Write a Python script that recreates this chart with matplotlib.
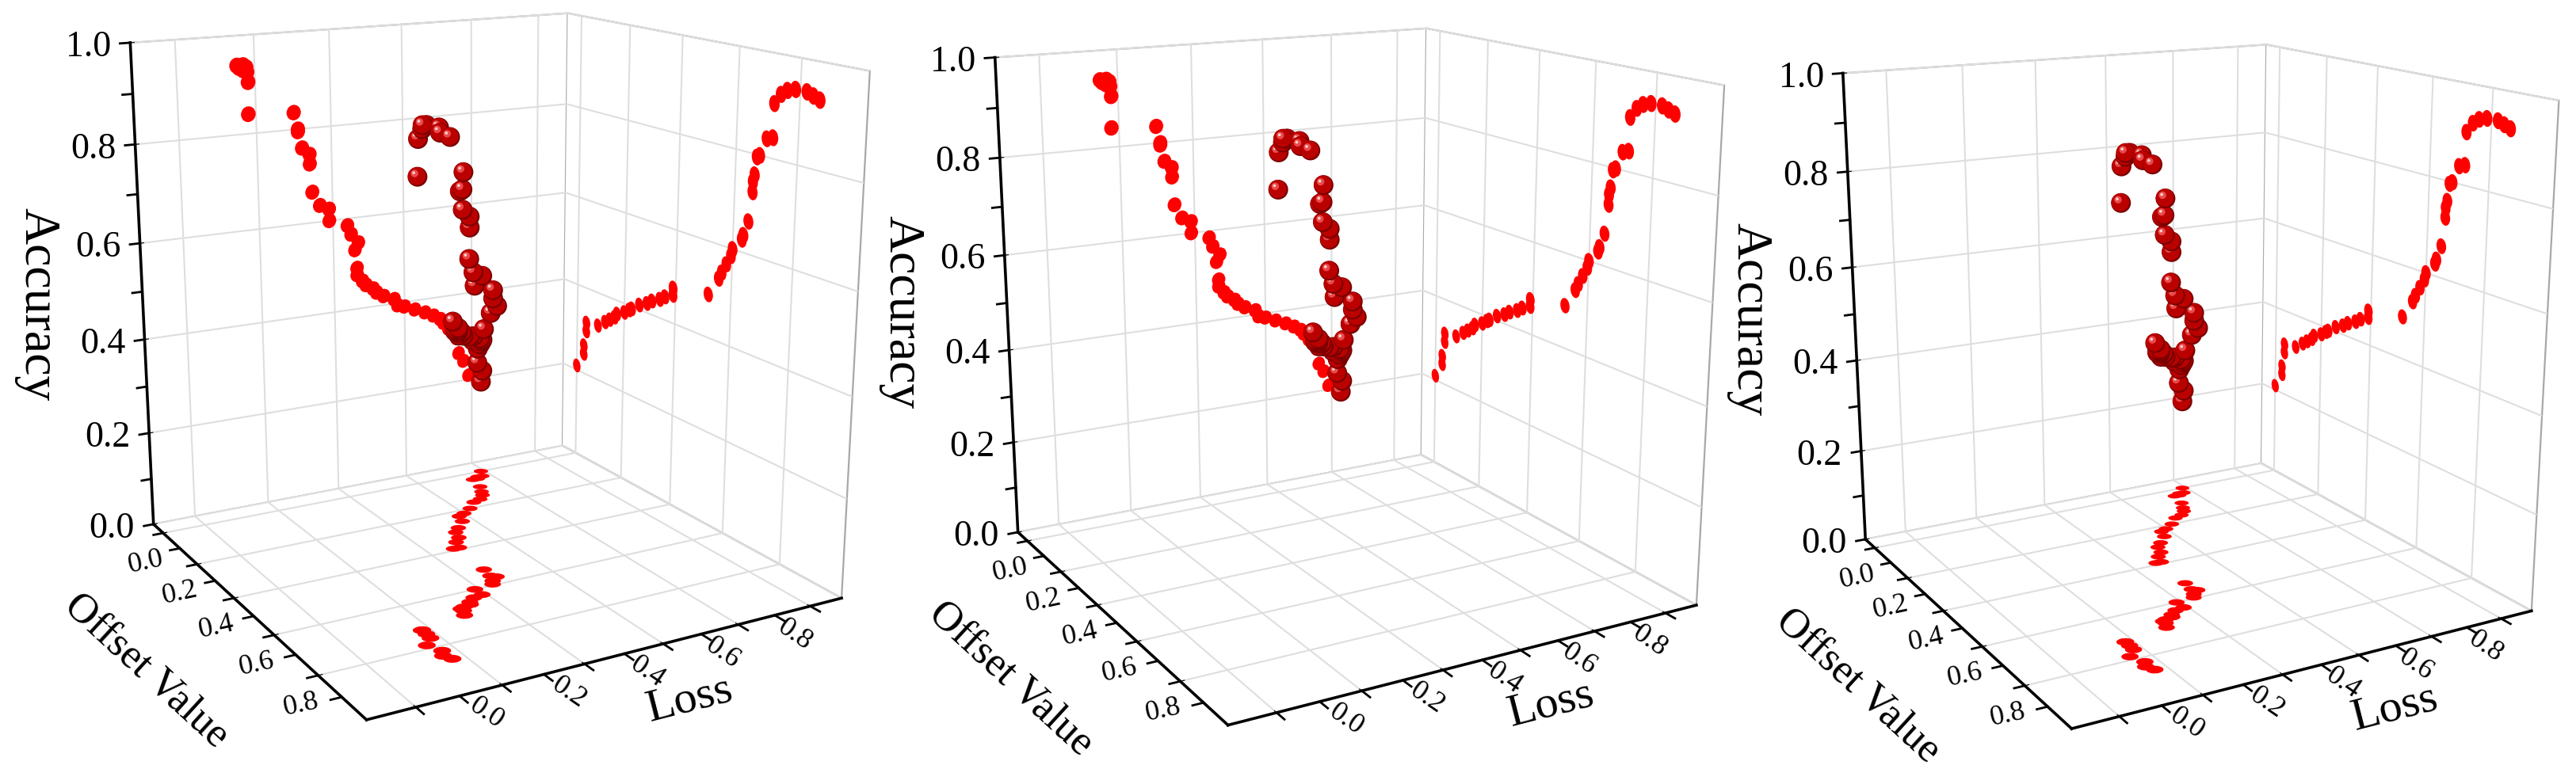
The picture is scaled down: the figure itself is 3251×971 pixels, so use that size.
import numpy as np
import matplotlib
matplotlib.use("Agg")
import matplotlib.pyplot as plt
from matplotlib.patches import Ellipse
from matplotlib.path import Path
from matplotlib.ticker import NullFormatter
import mpl_toolkits.mplot3d.art3d as art3d

W, H = 3251, 971
SERIF = ["Liberation Serif", "DejaVu Serif"]

# one run (same points in every panel)
offset = [0.00, 0.03, 0.03, 0.04, 0.04, 0.09, 0.12, 0.14, 0.16, 0.17,
          0.20, 0.22, 0.23, 0.26, 0.29, 0.31, 0.34, 0.36, 0.39, 0.39,
          0.52, 0.555, 0.565, 0.58, 0.595, 0.60, 0.63, 0.635, 0.65,
          0.66, 0.66, 0.665, 0.67, 0.68, 0.70, 0.72, 0.72, 0.74, 0.76,
          0.785, 0.82, 0.84, 0.86]
loss = [0.59, 0.575, 0.56, 0.555, 0.54, 0.53, 0.515, 0.505, 0.485, 0.46,
        0.43, 0.40, 0.38, 0.37, 0.34, 0.32, 0.31, 0.29, 0.28, 0.265,
        0.265, 0.26, 0.27, 0.25, 0.24, 0.19, 0.19, 0.165, 0.145,
        0.14, 0.14, 0.12, 0.11, 0.11, 0.10, -0.02, -0.018, -0.02, -0.022,
        -0.046, -0.03, -0.04, -0.03]
accuracy = [0.21, 0.245, 0.265, 0.30, 0.32, 0.325, 0.34, 0.35, 0.36, 0.37,
            0.38, 0.39, 0.395, 0.41, 0.42, 0.43, 0.44, 0.45, 0.46, 0.475,
            0.49, 0.53, 0.545, 0.565, 0.585, 0.60, 0.625, 0.635, 0.665,
            0.725, 0.745, 0.76, 0.795, 0.80, 0.835, 0.84, 0.905, 0.925, 0.935,
            0.94, 0.94, 0.935, 0.93]

offset_ticks = [0.0, 0.2, 0.4, 0.6, 0.8]
loss_ticks = [-0.2, 0.0, 0.2, 0.4, 0.6, 0.8]      # -0.2 gets a grid line, no label
acc_ticks = [0.0, 0.2, 0.4, 0.6, 0.8, 1.0]
offset_minor = np.round(np.arange(0.0, 0.95, 0.1), 2)
loss_minor = np.round(np.arange(-0.2, 0.85, 0.1), 2)
acc_minor = np.round(np.arange(0.0, 1.05, 0.1), 2)
X0, X1 = -0.06, 1.0       # Offset Value
Y0, Y1 = -0.31, 0.89      # Loss
Z0, Z1 = 0.0, 1.0         # Accuracy

# which shadows each panel shows, and where its box corners sit in the picture
# (px from top-left: L, F, R, B on the floor, then L, B, R at the top)
panels = [
    dict(shadows=("floor", "left", "right"),
         corners=[(193, 662), (465, 913), (1063, 755), (708, 563), (168, 50), (716, 19), (1094, 87)]),
    dict(shadows=("left", "right"),
         corners=[(1286, 669), (1549, 919), (2142, 765), (1791, 573), (1258, 71), (1798, 37), (2177, 108)]),
    dict(shadows=("floor", "right"),
         corners=[(2354, 678), (2614, 923), (3196, 771), (2852, 582), (2326, 93), (2860, 59), (3231, 127)]),
]

# camera fitted to the box corners of the first panel
ELEV, AZIM, FOCAL = 15.5, -29.5, 0.409

CORNERS = np.array([[X0, Y0, Z0], [X1, Y0, Z0], [X1, Y1, Z0], [X0, Y1, Z0],
                    [X0, Y0, Z1], [X0, Y1, Z1], [X1, Y1, Z1]])


def project(ax, pts):
    M = ax.get_proj()
    v = M @ np.c_[pts, np.ones(len(pts))].T
    return (v[:2] / v[3]).T


def to_px(ax, pts):
    return ax.transData.transform(project(ax, np.atleast_2d(np.asarray(pts, float))))


def style_axes(ax):
    ax.set_xticks(offset_ticks)
    ax.set_yticks(loss_ticks)
    ax.set_zticks(acc_ticks)
    ax.set_xlim(X0, X1)
    ax.set_ylim(Y0, Y1)
    ax.set_zlim(Z0, Z1)
    ax.patch.set_alpha(0)
    ax.computed_zorder = False
    ax.view_init(ELEV, AZIM)
    ax.set_proj_type("persp", focal_length=FOCAL)
    ax.set_box_aspect((1, 1, 1))
    ax.zaxis.set_ticks_position("lower")
    for axis in (ax.xaxis, ax.yaxis, ax.zaxis):
        axis.set_major_formatter(NullFormatter())
        axis.set_tick_params(tick1On=False, tick2On=False, label1On=False, label2On=False)
        axis.label.set_visible(False)
        axis.offsetText.set_visible(False)
        axis.set_pane_color((1, 1, 1, 1))
        axis.pane.set_edgecolor("#a8a8a8")
        axis.pane.set_linewidth(1.6)
        axis._axinfo["grid"].update(color="#dedede", linewidth=1.5)
        axis.line.set_color("black")
        axis.line.set_linewidth(2.6)


def add_dot(ax, center, w, h, plane, zdir):
    e = Ellipse(center, w, h, facecolor="#ff0000", edgecolor="none", zorder=1)
    ax.add_patch(e)
    art3d.pathpatch_2d_to_3d(e, z=plane, zdir=zdir)


def draw_panel(ax, cfg):
    style_axes(ax)

    # flat shadows on the walls / floor
    d = 0.032
    xr, yr, zr = X1 - X0, Y1 - Y0, Z1 - Z0
    for o, l, a in zip(offset, loss, accuracy):
        if "floor" in cfg["shadows"]:
            add_dot(ax, (o, l), d * xr, d * yr, Z0, "z")
        if "left" in cfg["shadows"]:
            add_dot(ax, (l, a), d * yr, d * zr, X0, "x")
        if "right" in cfg["shadows"]:
            add_dot(ax, (o, a), d * xr, d * zr, Y1, "y")

    # shaded balls, drawn back to front
    e, az = np.deg2rad(ELEV), np.deg2rad(AZIM)
    eye = np.array([np.cos(e) * np.cos(az), np.cos(e) * np.sin(az), np.sin(e)])
    nrm = np.c_[(np.array(offset) - X0) / xr, (np.array(loss) - Y0) / yr, np.array(accuracy)]
    order = np.argsort(nrm @ eye)
    layers = [((0.0, 0.0, 1.0), "#7a0000"), ((-0.07, 0.07, 0.9), "#bb0000"),
              ((-0.3, 0.33, 0.38), "#ea4a4a"), ((-0.38, 0.4, 0.15), "#ffd0d0")]
    R = 9.0
    for k, i in enumerate(order):
        for j, ((cx, cy, r), col) in enumerate(layers):
            p = Path.circle((cx, cy), r)
            m = np.abs(p.vertices).max()
            ax.scatter([offset[i]], [loss[i]], [accuracy[i]], marker=p, s=(2 * R * m) ** 2,
                       color=col, edgecolors="none", depthshade=False,
                       zorder=2 + k * 0.01 + j * 0.001)

    # tick marks every 0.1, pointing out of the box
    for t in offset_minor:
        ax.plot([t, t], [Y0, Y0 - 0.025], [Z0, Z0], color="black", lw=2, zorder=1.5)
    for t in loss_minor:
        ax.plot([X1, X1 + 0.03], [t, t], [Z0, Z0], color="black", lw=2, zorder=1.5)
    for t in acc_minor:
        ax.plot([X0, X0], [Y0, Y0 - 0.025], [t, t], color="black", lw=2, zorder=1.5)
    ax.set_xlim(X0, X1)
    ax.set_ylim(Y0, Y1)
    ax.set_zlim(Z0, Z1)


def angle(ax, p, direction):
    a, b = to_px(ax, [p, np.add(p, direction)])
    return np.degrees(np.arctan2(b[1] - a[1], b[0] - a[0]))


def label(x, y, s, **kw):
    fig.text(x / W, y / H, s, family=SERIF, ha="center", va="center", **kw)


def draw_labels(ax):
    for t in acc_ticks:
        x, y = to_px(ax, [X0, Y0, t])[0]
        fig.text((x - 24) / W, (y - 6) / H, f"{t:.1f}", family=SERIF, fontsize=33,
                 ha="right", va="center")
    rot = angle(ax, [0.4, Y0, Z0], [0, 0.1, 0])
    for t in offset_ticks:
        x, y = to_px(ax, [t, Y0, Z0])[0]
        label(x - 22, y - 37, f"{t:.1f}", fontsize=26, rotation=rot)
    rot = angle(ax, [X1, 0.3, Z0], [0.1, 0, 0])
    for t in loss_ticks[1:]:
        x, y = to_px(ax, [X1, t, Z0])[0]
        label(x - 20, y - 36, f"{t:.1f}", fontsize=26, rotation=rot)
    L, F = to_px(ax, CORNERS[:2])
    label(L[0] - 9, L[1] - 185, "Offset Value", fontsize=38,
          rotation=angle(ax, [0.5, Y0, Z0], [0.1, 0, 0]))
    label(F[0] + 408, F[1] + 26, "Loss", fontsize=42,
          rotation=angle(ax, [X1, 0.4, Z0], [0, 0.1, 0]))
    label(L[0] - 147, L[1] + 278, "Accuracy", fontsize=46, rotation=-90)


fig = plt.figure(figsize=(W / 100, H / 100), dpi=100)
axes = []
for n, cfg in enumerate(panels):
    ax = fig.add_axes([n / 3, 0, 1 / 3, 1], projection="3d")
    draw_panel(ax, cfg)
    axes.append(ax)
fig.canvas.draw()

# move/scale each box so its corners land where the reference has them
for ax, cfg in zip(axes, panels):
    T = np.array(cfg["corners"], float)
    T[:, 1] = H - T[:, 1]
    P = project(ax, CORNERS)
    pm, tm = P.mean(0), T.mean(0)
    s = ((P - pm) * (T - tm)).sum() / ((P - pm) ** 2).sum()
    t = tm - s * pm
    bb = ax.get_position().transformed(fig.transFigure)
    c = np.array([(bb.x0 + bb.x1) / 2, (bb.y0 + bb.y1) / 2])
    q = ax.transData.inverted().transform(c)
    k = (ax.transData.transform([1, 0]) - ax.transData.transform([0, 0]))[0]
    wpx = bb.width * s / k
    cn = t + s * q
    ax.set_position([(cn[0] - wpx / 2) / W, (cn[1] - wpx / 2) / H, wpx / W, wpx / H])
fig.canvas.draw()

for ax in axes:
    draw_labels(ax)

fig.savefig("out.png", dpi=100, facecolor="white")
